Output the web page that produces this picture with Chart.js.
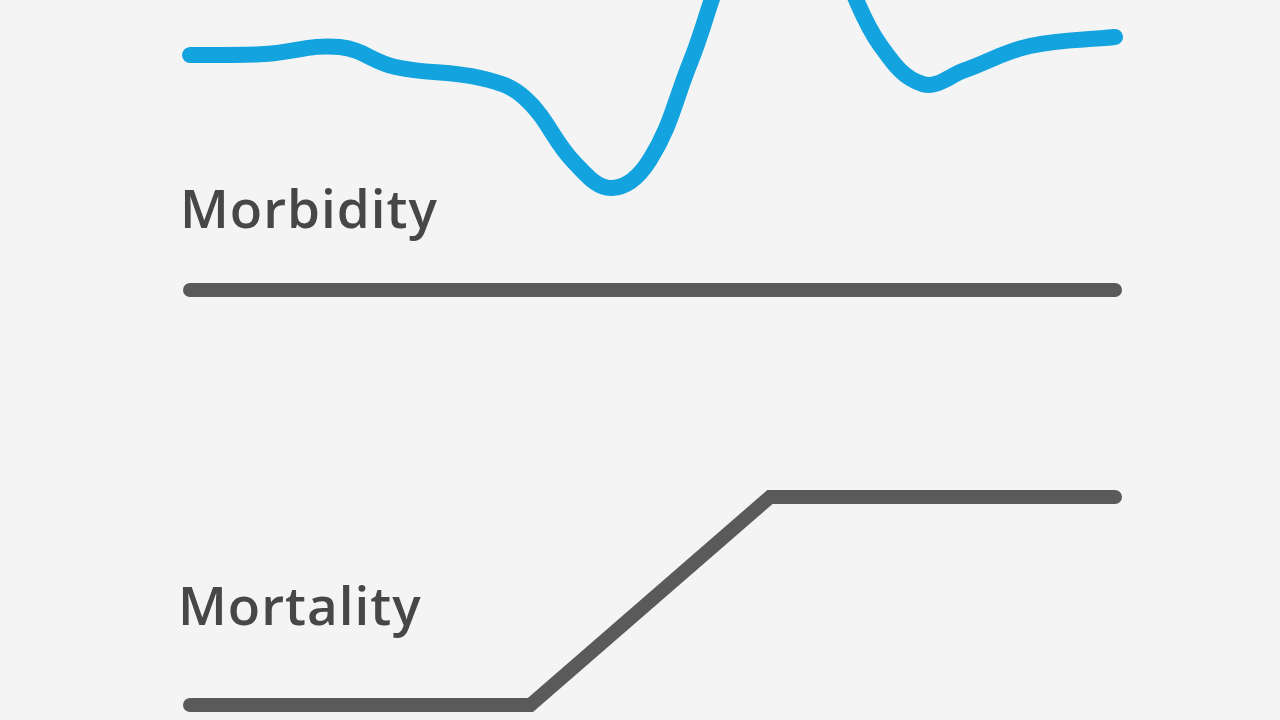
<!DOCTYPE html>
<html>
<head>
<meta charset="utf-8">
<script src="https://cdn.jsdelivr.net/npm/chart.js@4"></script>
<style>
  html, body { margin: 0; padding: 0; background: #f4f4f4; }
  #wrap { position: relative; width: 1280px; height: 720px; overflow: hidden; }
  .label {
    position: absolute;
    font-family: "Open Sans", sans-serif;
    font-weight: 600;
    font-size: 53px;
    letter-spacing: 1px;
    line-height: 1;
    color: #474747;
    white-space: nowrap;
  }
</style>
</head>
<body>
<div id="wrap">
  <canvas id="chart" width="1280" height="720"></canvas>
  <div class="label" style="left:180px; top:181px;">Morbidity</div>
  <div class="label" style="left:178px; top:578px;">Mortality</div>
</div>
<script>
// Morbidity curve (blue)
let morbidityX = [0, 8.1, 16.2, 22.2, 31.4, 36.2, 41.6, 45.6, 49.7, 54.1, 58.9, 64.3, 69.7, 74.6, 79.2, 83.8, 90.8, 100];
let morbidityY = [66.5, 66.6, 67.3, 65.3, 64.2, 62.2, 55.7, 53.2, 56, 65.8, 77, 81, 76, 67.5, 63.6, 65, 67.4, 68.3];

// Flat grey divider line
let baselineX = [0, 100];
let baselineY = [43, 43];

// Mortality step (grey)
let mortalityX = [0, 36.8, 62.7, 100];
let mortalityY = [1.5, 1.5, 22.3, 22.3];

function toPoints(xs, ys) {
  return xs.map((x, i) => ({ x: x, y: ys[i] }));
}

let ctx = document.getElementById("chart").getContext("2d");
let chart = new Chart(ctx, {
  type: "line",
  data: {
    datasets: [
      {
        label: "Morbidity",
        data: toPoints(morbidityX, morbidityY),
        borderColor: "#13a3df",
        borderWidth: 16,
        tension: 0.4,
        borderCapStyle: "round",
        borderJoinStyle: "round",
        pointRadius: 0,
        clip: false,
      },
      {
        label: "Divider",
        data: toPoints(baselineX, baselineY),
        borderColor: "#5a5a5a",
        borderWidth: 14,
        borderCapStyle: "round",
        pointRadius: 0,
        clip: false,
      },
      {
        label: "Mortality",
        data: toPoints(mortalityX, mortalityY),
        borderColor: "#5a5a5a",
        borderWidth: 14,
        borderCapStyle: "round",
        borderJoinStyle: "miter",
        pointRadius: 0,
        clip: false,
      },
    ],
  },
  options: {
    responsive: false,
    animation: false,
    layout: { padding: { left: 190, right: 165, top: 0, bottom: 0 } },
    scales: {
      x: { type: "linear", min: 0, max: 100, display: false },
      y: { type: "linear", min: 0, max: 72, display: false },
    },
    plugins: {
      legend: { display: false },
      tooltip: { enabled: false },
    },
  },
});
</script>
</body>
</html>
